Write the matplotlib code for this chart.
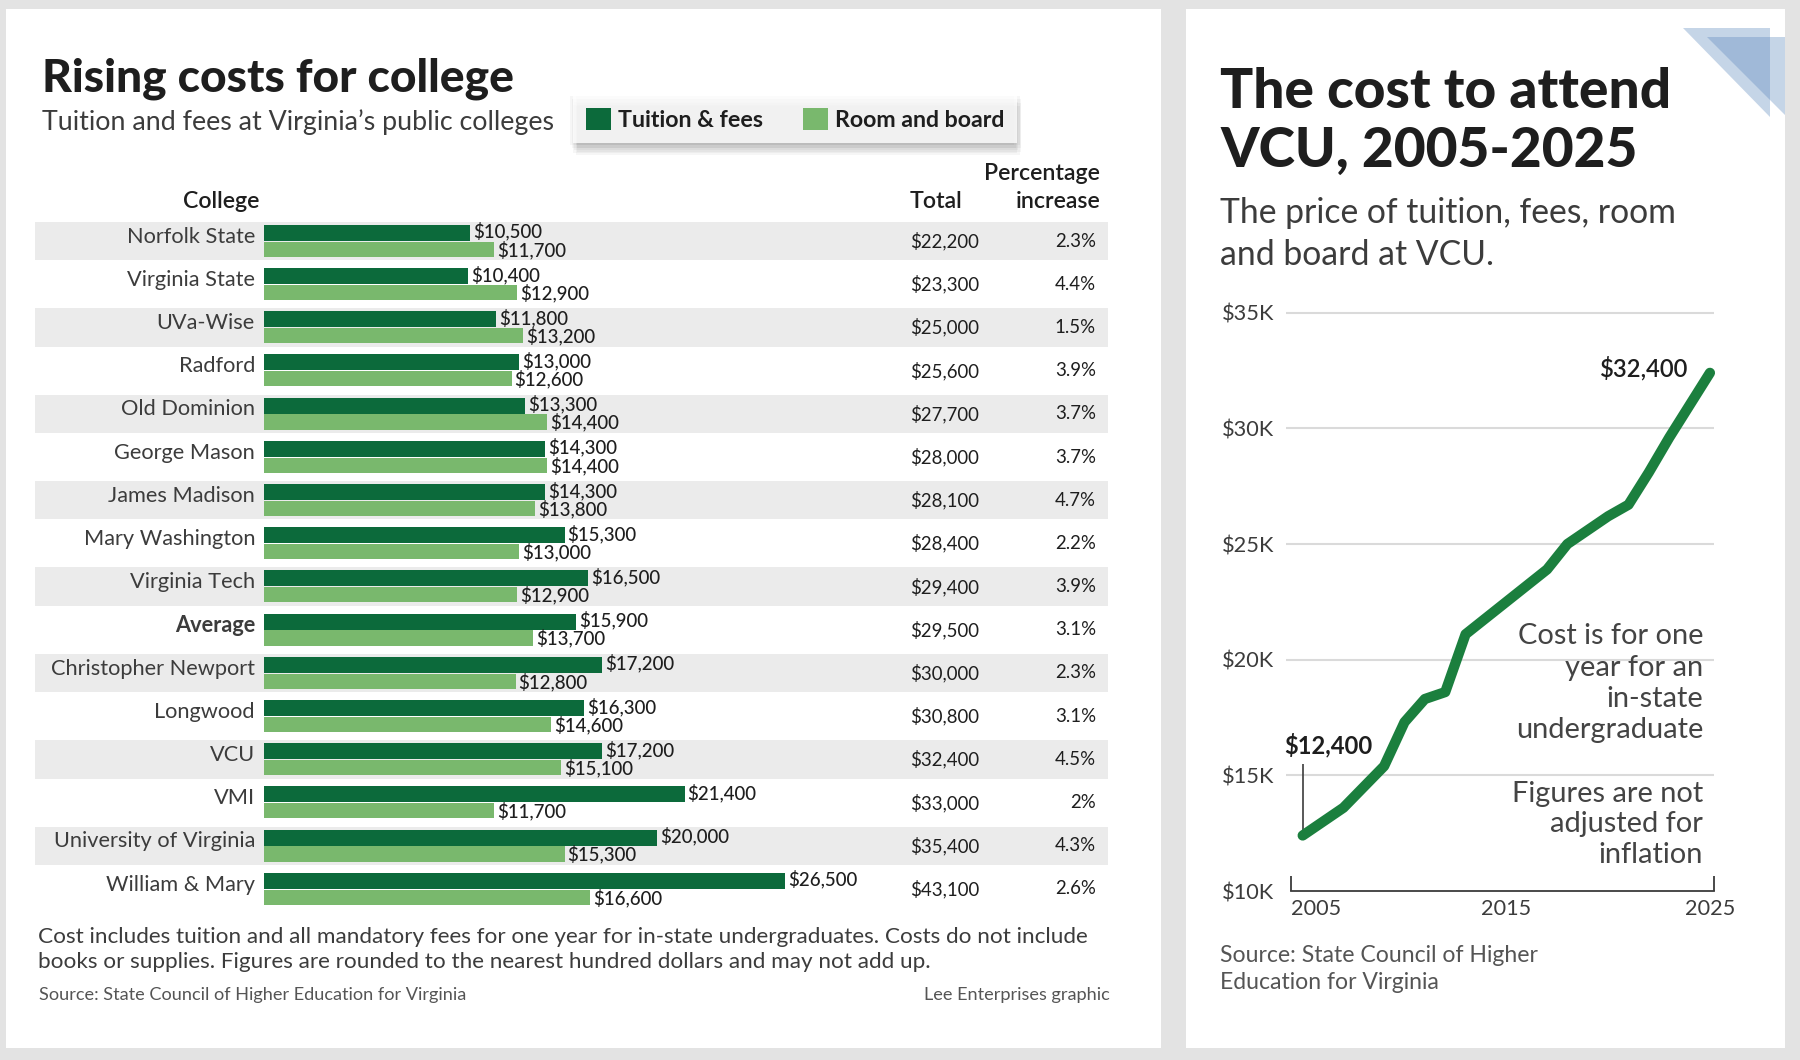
import numpy as np
import matplotlib
matplotlib.use('Agg')
import matplotlib.pyplot as plt
import matplotlib.patheffects as pe
from matplotlib.patches import Rectangle, Polygon

# ---- data ----
colleges = ['Norfolk State', 'Virginia State', 'UVa-Wise', 'Radford', 'Old Dominion',
            'George Mason', 'James Madison', 'Mary Washington', 'Virginia Tech', 'Average',
            'Christopher Newport', 'Longwood', 'VCU', 'VMI', 'University of Virginia',
            'William & Mary']
tuition = [10500, 10400, 11800, 13000, 13300, 14300, 14300, 15300, 16500, 15900,
           17200, 16300, 17200, 21400, 20000, 26500]
room_board = [11700, 12900, 13200, 12600, 14400, 14400, 13800, 13000, 12900, 13700,
              12800, 14600, 15100, 11700, 15300, 16600]
totals = [22200, 23300, 25000, 25600, 27700, 28000, 28100, 28400, 29400, 29500,
          30000, 30800, 32400, 33000, 35400, 43100]
pct_increase = ['2.3%', '4.4%', '1.5%', '3.9%', '3.7%', '3.7%', '4.7%', '2.2%', '3.9%',
                '3.1%', '2.3%', '3.1%', '4.5%', '2%', '4.3%', '2.6%']

vcu_years = list(range(2005, 2026))
vcu_cost = [12.4, 13.0, 13.6, 14.5, 15.4, 17.3, 18.3, 18.6, 21.1, 21.8, 22.5,
            23.2, 23.9, 25.0, 25.6, 26.2, 26.7, 28.1, 29.6, 31.0, 32.4]  # thousands
cost_ticks = [10, 15, 20, 25, 30, 35]
year_ticks = [2005, 2015, 2025]

# ---- style ----
W, H = 1800, 1060
DARK, LIGHT = '#0c6a3b', '#79b86d'
BAND = '#ebebeb'
LINE = '#1b7f3e'
INK = '#1e1e1e'
GREY = '#3c3c3c'
plt.rcParams['font.family'] = 'Lato'

fig = plt.figure(figsize=(W / 100, H / 100), dpi=100, facecolor='#e3e3e3')
renderer = fig.canvas.get_renderer()


def fx(x):
    return x / W


def fy(y):
    return 1 - y / H


def size_for(s, width, **kw):
    # font size (pt) that makes s about `width` pixels wide
    t = fig.text(0, 0, s, fontsize=20, **kw)
    w = t.get_window_extent(renderer).width
    t.remove()
    return 20 * width / w


def put(x, y, s, size, **kw):
    kw.setdefault('va', 'baseline')
    kw.setdefault('color', GREY)
    return fig.text(fx(x), fy(y), s, fontsize=size, **kw)


# white panels
for x0, x1 in [(6, 1161), (1186, 1785)]:
    fig.add_artist(Rectangle((fx(x0), fy(1048)), fx(x1) - fx(x0), fy(9) - fy(1048),
                             transform=fig.transFigure, facecolor='white',
                             edgecolor='none', zorder=-2))

# ================= left: bar table =================
title_sz = size_for('Rising costs for college', 473, weight='black')
put(42, 92, 'Rising costs for college', title_sz, weight='black', color=INK)
sub_sz = size_for('Tuition and fees at Virginia’s public colleges', 512)
put(42, 130, 'Tuition and fees at Virginia’s public colleges', sub_sz)

ROW = 43.2          # px per row
PX = 0.01965        # px per dollar
ax = fig.add_axes([fx(35), fy(241 + 15.5 * ROW), (1108 - 35) / W, 16 * ROW / H])
ax.set_xlim(-(264 - 35) / PX, (1108 - 264) / PX)
ax.set_ylim(len(colleges) - 0.5, -0.5)
ax.axis('off')

y = np.arange(len(colleges))
for i in y[::2]:
    ax.axhspan(i - 0.445, i + 0.445, color=BAND, lw=0, zorder=0)

b1 = ax.barh(y - 0.19, tuition, height=0.37, color=DARK, zorder=2, label='Tuition & fees')
b2 = ax.barh(y + 0.19, room_board, height=0.35, color=LIGHT, zorder=2, label='Room and board')

lab_sz = size_for('Christopher Newport', 205)
val_sz = size_for('$10,500', 69, weight='medium')
for i, name in enumerate(colleges):
    ax.text(-9 / PX, i - 0.1, name, ha='right', va='center', fontsize=lab_sz, color=GREY,
            weight='bold' if name == 'Average' else 'normal')
    ax.text(tuition[i] + 3 / PX, i - 0.22, f'${tuition[i]:,}', ha='left', va='center',
            fontsize=val_sz, color=INK, weight='medium', zorder=3)
    ax.text(room_board[i] + 3 / PX, i + 0.2, f'${room_board[i]:,}', ha='left', va='center',
            fontsize=val_sz, color=INK, weight='medium', zorder=3)
    ax.text((910 - 264) / PX, i, f'${totals[i]:,}', ha='left', va='center',
            fontsize=val_sz, color=INK)
    ax.text((1096 - 264) / PX, i, pct_increase[i], ha='right', va='center',
            fontsize=val_sz, color=INK)

hd_sz = size_for('Percentage', 116, weight='semibold')
hdr = dict(fontsize=hd_sz, color=INK, weight='semibold', va='baseline')
ax.text(-5 / PX, (208 - 241) / ROW, 'College', ha='right', **hdr)
ax.text((910 - 264) / PX, (208 - 241) / ROW, 'Total', ha='left', **hdr)
ax.text((1100 - 264) / PX, (180 - 241) / ROW, 'Percentage', ha='right', **hdr)
ax.text((1100 - 264) / PX, (208 - 241) / ROW, 'increase', ha='right', **hdr)

leg_sz = size_for('Tuition & fees', 145, weight='bold')
leg = fig.legend(handles=[b1, b2], loc='upper left', bbox_to_anchor=(fx(573), fy(95)),
                 ncol=2, frameon=True, fancybox=False, borderaxespad=0,
                 prop=dict(weight='bold', size=leg_sz), labelcolor=INK,
                 handlelength=1.1, handleheight=1.1, handletextpad=0.3,
                 columnspacing=1.7, borderpad=0.55)
frame = leg.get_frame()
frame.set_edgecolor('none')
# soft drop shadow: stacked, slightly offset copies
frame.set_path_effects([pe.SimplePatchShadow(offset=(dx, dy), shadow_rgbFace='k', alpha=0.035)
                        for dx, dy in [(-2, -1), (2, -1), (3, -3), (-1, -3), (1, -5),
                                       (3, -6), (0, -7), (2, -8)]] + [pe.Normal()])

note_sz = size_for('Cost includes tuition and all mandatory fees for one year for '
                   'in-state undergraduates. Costs do not include', 1050)
put(38, 943, 'Cost includes tuition and all mandatory fees for one year for in-state '
    'undergraduates. Costs do not include', note_sz)
put(38, 968, 'books or supplies. Figures are rounded to the nearest hundred dollars and '
    'may not add up.', note_sz)
src_sz = size_for('Source: State Council of Higher Education for Virginia', 427)
put(39, 1000, 'Source: State Council of Higher Education for Virginia', src_sz, color='#555555')
put(1110, 1000, 'Lee Enterprises graphic', src_sz, color='#555555', ha='right')

# ================= right: VCU line =================
for pts in [[(1683, 28), (1770, 28), (1770, 117)], [(1707, 37), (1785, 37), (1785, 115)]]:
    fig.add_artist(Polygon([(fx(a), fy(b)) for a, b in pts], closed=True,
                           transform=fig.transFigure, facecolor='#5b87bc',
                           edgecolor='none', alpha=0.35))

rt_sz = size_for('The cost to attend', 452, weight='black')
put(1220, 108, 'The cost to attend', rt_sz, weight='black', color=INK)
put(1220, 167, 'VCU, 2005-2025', rt_sz, weight='black', color=INK)
rs_sz = size_for('The price of tuition, fees, room', 458)
put(1220, 223, 'The price of tuition, fees, room', rs_sz)
put(1220, 265, 'and board at VCU.', rs_sz)

PY = 23.12  # px per $1K
top = 312.7 - 0.6 * PY
AX0, AX1 = 2004.45, 2025.2   # ends of the drawn x axis
lx = fig.add_axes([fx(1286), fy(891), (1714 - 1286) / W, (891 - top) / H])
lx.set_xlim(2004.18, AX1)
lx.set_ylim(10, 35.6)
lx.set_facecolor('none')
for s in ['top', 'right', 'left']:
    lx.spines[s].set_visible(False)
lx.spines['bottom'].set_bounds(AX0, AX1)
lx.spines['bottom'].set_color(GREY)
lx.spines['bottom'].set_linewidth(1.3)

tick_sz = size_for('$35K', 52)
lx.set_yticks(cost_ticks)
lx.set_yticklabels([f'${v}K' for v in cost_ticks])
lx.tick_params(axis='y', length=0, pad=8.5, labelsize=tick_sz, labelcolor=GREY)
lx.grid(axis='y', color='#dadada', lw=1.5, zorder=0)
lx.get_ygridlines()[0].set_visible(False)

# first year label sits flush with the start of the axis line
yr_sz = size_for('2005', 50)
lx.xaxis.remove_overlapping_locs = False
lx.set_xticks([AX0] + year_ticks[1:])
lx.set_xticklabels([str(v) for v in year_ticks])
lx.get_xticklabels()[0].set_ha('left')
lx.tick_params(axis='x', which='major', length=0, pad=6, labelsize=yr_sz, labelcolor=GREY)
lx.set_xticks([AX0, AX1], minor=True)
lx.tick_params(axis='x', which='minor', direction='in', length=10.8, width=1.3, color=GREY)

lx.plot(vcu_years, vcu_cost, color=LINE, lw=7.4, solid_capstyle='round',
        solid_joinstyle='round', clip_on=False, zorder=3)
lx.vlines(vcu_years[0], vcu_cost[0], vcu_cost[0] + 3.1, color=GREY, lw=1.2, zorder=2)

end_sz = size_for(f'${vcu_cost[-1] * 1000:,.0f}', 88, weight='semibold')
put(1688, 377, f'${vcu_cost[-1] * 1000:,.0f}', end_sz, weight='semibold', color=INK, ha='right')
put(1284, 753, f'${vcu_cost[0] * 1000:,.0f}', end_sz, weight='bold', color=INK)

ann_sz = size_for('undergraduate', 188)
for yy, s in zip([644, 676, 707, 738, 802, 832, 863],
                 ['Cost is for one', 'year for an', 'in-state', 'undergraduate',
                  'Figures are not', 'adjusted for', 'inflation']):
    put(1703, yy, s, ann_sz, ha='right', color='#444444')

rsrc_sz = size_for('Source: State Council of Higher', 318)
put(1220, 962, 'Source: State Council of Higher', rsrc_sz, color='#555555')
put(1220, 989, 'Education for Virginia', rsrc_sz, color='#555555')

fig.savefig('out.png', dpi=100, facecolor=fig.get_facecolor())
